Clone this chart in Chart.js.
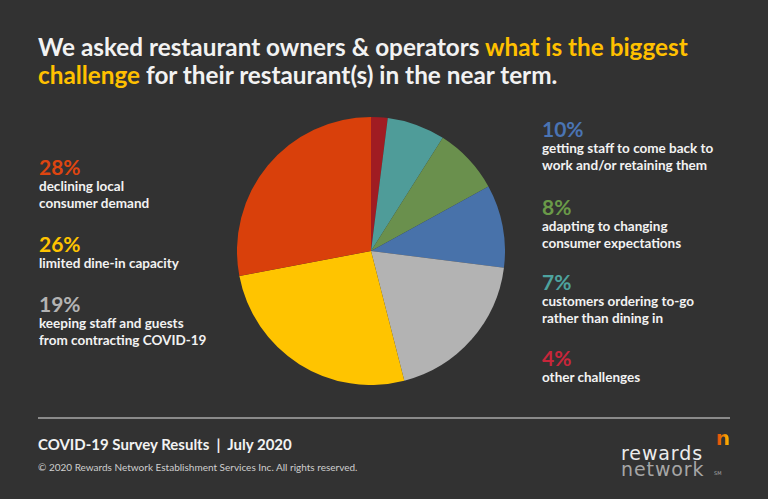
<!DOCTYPE html>
<html lang="en">
<head>
    <meta charset="UTF-8">
    <title>COVID-19 Survey Results</title>
    <script src="https://cdn.jsdelivr.net/npm/chart.js"></script>
    <style>
        html, body {
            margin: 0;
            padding: 0;
        }
        body {
            width: 768px;
            height: 499px;
            background: #323232;
            position: relative;
            overflow: hidden;
            font-family: Lato, "Open Sans", sans-serif;
            color: #f2f2f2;
        }
        .title {
            position: absolute;
            left: 38px;
            top: 33px;
            font-size: 24.3px;
            font-weight: 700;
            line-height: 28px;
            white-space: nowrap;
        }
        .hl { color: #ffc000; }
        #pieWrap {
            position: absolute;
            left: 237px;
            top: 117px;
            width: 268px;
            height: 268px;
        }
        .item {
            position: absolute;
            white-space: nowrap;
        }
        .item .pct {
            font-size: 21px;
            font-weight: 700;
            line-height: 22px;
            height: 22px;
        }
        .item .desc {
            font-size: 13.5px;
            font-weight: 700;
            line-height: 16.5px;
        }
        .rule {
            position: absolute;
            left: 38px;
            top: 417px;
            width: 692px;
            height: 2px;
            background: #8a8a8a;
        }
        .foot1 {
            position: absolute;
            left: 38px;
            top: 435px;
            font-size: 15px;
            font-weight: 700;
            white-space: nowrap;
        }
        .foot2 {
            position: absolute;
            left: 38px;
            top: 461px;
            font-size: 10px;
            color: #cfcfcf;
            white-space: nowrap;
        }
        .logo {
            position: absolute;
            left: 621px;
            top: 446px;
            font-family: "DejaVu Sans", sans-serif;
            font-size: 19px;
            line-height: 15.5px;
            letter-spacing: 0.9px;
            white-space: pre;
            color: #a6a6a6;
        }
        .logo::first-line { color: #ececec; }
        .sm {
            position: absolute;
            left: 714px;
            top: 471px;
            font-family: "DejaVu Sans", sans-serif;
            font-size: 5px;
            line-height: 5px;
            color: #a6a6a6;
        }
        .mark {
            position: absolute;
            left: 716px;
            top: 430px;
            font-family: "DejaVu Sans", sans-serif;
            font-size: 20px;
            line-height: 16px;
            font-weight: 700;
            background: linear-gradient(90deg, #d9400b, #ffc000);
            -webkit-background-clip: text;
            color: transparent;
        }
    </style>
</head>
<body>
    <div class="title">
        We asked restaurant owners &amp; operators <span class="hl">what is the biggest</span><br>
        <span class="hl">challenge</span> for their restaurant(s) in the near term.
    </div>

    <div id="pieWrap"><canvas id="pie" width="268" height="268"></canvas></div>

    <div id="labels"></div>

    <div class="rule"></div>
    <div class="foot1">COVID-19 Survey Results &nbsp;|&nbsp; July 2020</div>
    <div class="foot2">© 2020 Rewards Network Establishment Services Inc. All rights reserved.</div>
    <div class="mark">n</div>
    <div class="logo">rewards
network</div>
    <div class="sm">SM</div>

    <script>
        // Slices in drawing order, clockwise from 12 o'clock
        const categories = [
            'other challenges',
            'customers ordering to-go rather than dining in',
            'adapting to changing consumer expectations',
            'getting staff to come back to work and/or retaining them',
            'keeping staff and guests from contracting COVID-19',
            'limited dine-in capacity',
            'declining local consumer demand'
        ];
        // Slice sizes as drawn in the pie
        const sliceValues = [2, 7, 8, 10, 19, 26, 28];
        // Percentages printed next to the pie
        const labelPercents = [4, 7, 8, 10, 19, 26, 28];
        // Description lines for each label
        const labelLines = [
            ['other challenges'],
            ['customers ordering to-go', 'rather than dining in'],
            ['adapting to changing', 'consumer expectations'],
            ['getting staff to come back to', 'work and/or retaining them'],
            ['keeping staff and guests', 'from contracting COVID-19'],
            ['limited dine-in capacity'],
            ['declining local', 'consumer demand']
        ];

        const sliceColors = ['#a01c22', '#4f9c99', '#6a904d', '#4872aa', '#b3b3b3', '#ffc400', '#d9400b'];
        const pctColors = ['#c8263a', '#4ea39f', '#6a9a48', '#4a74b4', '#b3b3b3', '#ffc400', '#de4510'];
        // label box positions (left, top) by slice index
        const labelPos = [
            [542, 347], [542, 271], [542, 196], [542, 118],
            [39, 293], [39, 233], [39, 156]
        ];

        const holder = document.getElementById('labels');
        categories.forEach((c, i) => {
            const el = document.createElement('div');
            el.className = 'item';
            el.style.left = labelPos[i][0] + 'px';
            el.style.top = labelPos[i][1] + 'px';
            el.innerHTML = '<div class="pct" style="color:' + pctColors[i] + '">' + labelPercents[i] + '%</div>' +
                '<div class="desc">' + labelLines[i].join('<br>') + '</div>';
            holder.appendChild(el);
        });

        const ctx = document.getElementById('pie').getContext('2d');
        new Chart(ctx, {
            type: 'pie',
            data: {
                labels: categories,
                datasets: [{
                    data: sliceValues,
                    backgroundColor: sliceColors,
                    borderWidth: 0
                }]
            },
            options: {
                responsive: false,
                animation: false,
                layout: { padding: 0 },
                plugins: {
                    legend: { display: false },
                    tooltip: { enabled: false }
                }
            }
        });
    </script>
</body>
</html>
